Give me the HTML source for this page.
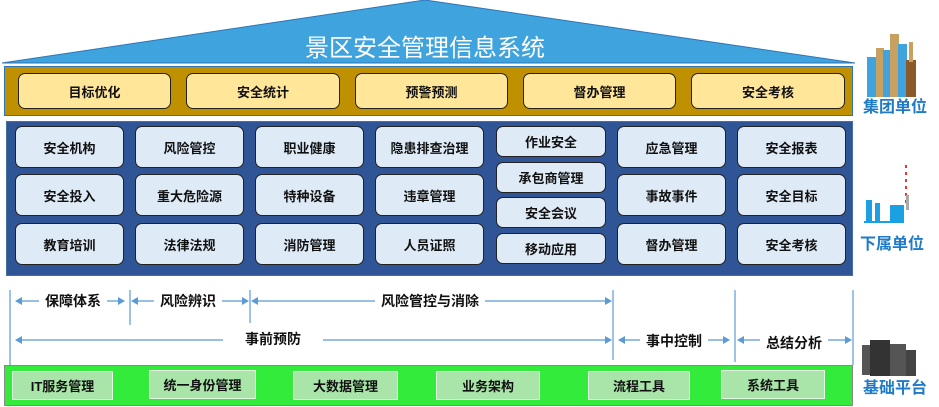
<!DOCTYPE html>
<html><head><meta charset="utf-8"><style>
body{margin:0;width:939px;height:407px;background:#fff;position:relative;overflow:hidden;font-family:"Liberation Sans","Noto Sans CJK SC",sans-serif;}
.a{position:absolute;box-sizing:border-box;display:flex;align-items:center;justify-content:center;}
.g{background:#FFE699;border:1.5px solid #222;border-radius:7px;font-size:13px;font-weight:bold;color:#111;}
.b{background:#DEEBF7;border:1.5px solid #222;border-radius:7px;font-size:13px;font-weight:bold;color:#111;}
.gr{background:#A9E5A9;border:1.5px solid #E6F7E6;font-size:13px;font-weight:bold;color:#111;}
.lab{font-size:14px;font-weight:bold;color:#111;background:#fff;padding:0 6px;}
.side{font-size:16px;font-weight:bold;color:#1F7BC8;}
</style></head><body>
<svg width="939" height="407" style="position:absolute;left:0;top:0">
<polygon points="2,63 425,0 855,63" fill="#3FA3DE" stroke="#2E75B6" stroke-width="1"/>
<rect x="4.5" y="66.5" width="848" height="49" fill="#BF9000" stroke="#2E75B6"/>
<rect x="6.5" y="121.5" width="846" height="154" fill="#2F5597" stroke="#41719C"/>
<rect x="4.5" y="365.5" width="848" height="40" fill="#33EB3A" stroke="#888"/>
<g stroke="#5B9BD5" stroke-width="1.2">
<line x1="10" y1="290" x2="10" y2="365"/><line x1="130" y1="290" x2="130" y2="325"/>
<line x1="250" y1="290" x2="250" y2="323"/><line x1="613" y1="290" x2="613" y2="360"/>
<line x1="735" y1="290" x2="735" y2="362"/><line x1="853" y1="290" x2="853" y2="365"/>
<line x1="16" y1="301" x2="124" y2="301"/><line x1="136" y1="301" x2="244" y2="301"/>
<line x1="256" y1="301" x2="607" y2="301"/>
<line x1="16" y1="340" x2="607" y2="340"/><line x1="619" y1="340" x2="729" y2="340"/>
<line x1="741" y1="340" x2="847" y2="340"/>
</g>
<g fill="#5B9BD5">
<polygon points="15,301 22,297 22,305"/><polygon points="125,301 118,297 118,305"/>
<polygon points="131,301 138,297 138,305"/><polygon points="249,301 242,297 242,305"/>
<polygon points="251,301 258,297 258,305"/><polygon points="612,301 605,297 605,305"/>
<polygon points="15,340 22,336 22,344"/><polygon points="612,340 605,336 605,344"/>
<polygon points="618,340 625,336 625,344"/><polygon points="730,340 723,336 723,344"/>
<polygon points="737,340 744,336 744,344"/><polygon points="852,340 845,336 845,344"/>
</g>
<!-- icons -->
<g>
<rect x="867" y="57" width="10" height="40" fill="#3FA3DE"/><rect x="876" y="48" width="8" height="49" fill="#C8A060"/>
<rect x="883" y="50" width="8" height="47" fill="#3FA3DE"/><rect x="890" y="34" width="9" height="63" fill="#C8A060"/>
<rect x="898" y="44" width="9" height="53" fill="#3FA3DE"/><rect x="906" y="60" width="10" height="37" fill="#8B5A2B"/>
<rect x="909" y="42" width="4" height="20" fill="#C8A060"/>
<rect x="866" y="200" width="6" height="22" fill="#1BA1E2"/><rect x="875" y="203" width="5" height="19" fill="#1BA1E2"/>
<rect x="864" y="221" width="40" height="2" fill="#1BA1E2"/><rect x="890" y="205" width="14" height="18" fill="#1BA1E2"/>
<line x1="906" y1="165" x2="906" y2="205" stroke="#E33" stroke-width="2" stroke-dasharray="3,4"/>
<rect x="906" y="195" width="3" height="15" fill="#aaa"/>
<rect x="862" y="345" width="8" height="30" fill="#555"/><rect x="870" y="340" width="20" height="36" fill="#333"/>
<rect x="890" y="344" width="16" height="32" fill="#555"/><rect x="906" y="350" width="10" height="26" fill="#444"/>
</g>
</svg>
<div class="a" style="left:200px;top:28px;width:450px;height:34px;color:#fff;font-size:24px;">景区安全管理信息系统</div>
<div class="a g" style="left:18px;top:73px;width:153px;height:36px">目标优化</div>
<div class="a g" style="left:186px;top:73px;width:154px;height:36px">安全统计</div>
<div class="a g" style="left:355px;top:73px;width:153px;height:36px">预警预测</div>
<div class="a g" style="left:523px;top:73px;width:153px;height:36px">督办管理</div>
<div class="a g" style="left:691px;top:73px;width:154px;height:36px">安全考核</div>

<div class="a b" style="left:15px;top:126px;width:109px;height:42px">安全机构</div>
<div class="a b" style="left:15px;top:174px;width:109px;height:42px">安全投入</div>
<div class="a b" style="left:15px;top:223px;width:109px;height:42px">教育培训</div>
<div class="a b" style="left:135px;top:126px;width:109px;height:42px">风险管控</div>
<div class="a b" style="left:135px;top:174px;width:109px;height:42px">重大危险源</div>
<div class="a b" style="left:135px;top:223px;width:109px;height:42px">法律法规</div>
<div class="a b" style="left:255px;top:126px;width:109px;height:42px">职业健康</div>
<div class="a b" style="left:255px;top:174px;width:109px;height:42px">特种设备</div>
<div class="a b" style="left:255px;top:223px;width:109px;height:42px">消防管理</div>
<div class="a b" style="left:375px;top:126px;width:109px;height:42px">隐患排查治理</div>
<div class="a b" style="left:375px;top:174px;width:109px;height:42px">违章管理</div>
<div class="a b" style="left:375px;top:223px;width:109px;height:42px">人员证照</div>
<div class="a b" style="left:496px;top:126px;width:110px;height:31px">作业安全</div>
<div class="a b" style="left:496px;top:162px;width:110px;height:31px">承包商管理</div>
<div class="a b" style="left:496px;top:197px;width:110px;height:31px">安全会议</div>
<div class="a b" style="left:496px;top:233px;width:110px;height:31px">移动应用</div>
<div class="a b" style="left:617px;top:126px;width:109px;height:42px">应急管理</div>
<div class="a b" style="left:617px;top:174px;width:109px;height:42px">事故事件</div>
<div class="a b" style="left:617px;top:223px;width:109px;height:42px">督办管理</div>
<div class="a b" style="left:737px;top:126px;width:109px;height:42px">安全报表</div>
<div class="a b" style="left:737px;top:174px;width:109px;height:42px">安全目标</div>
<div class="a b" style="left:737px;top:223px;width:109px;height:42px">安全考核</div>

<div class="a" style="left:23px;top:290px;width:100px;height:22px"><span class="lab">保障体系</span></div>
<div class="a" style="left:138px;top:290px;width:100px;height:22px"><span class="lab">风险辨识</span></div>
<div class="a" style="left:370px;top:290px;width:120px;height:22px"><span class="lab">风险管控与消除</span></div>
<div class="a" style="left:213px;top:327px;width:120px;height:24px"><span class="lab" style="padding:0 22px">事前预防</span></div>
<div class="a" style="left:625px;top:329px;width:98px;height:24px"><span class="lab">事中控制</span></div>
<div class="a" style="left:745px;top:331px;width:98px;height:24px"><span class="lab">总结分析</span></div>

<div class="a gr" style="left:12px;top:371px;width:101px;height:29px">IT服务管理</div>
<div class="a gr" style="left:149px;top:370px;width:107px;height:29px">统一身份管理</div>
<div class="a gr" style="left:293px;top:371px;width:105px;height:29px">大数据管理</div>
<div class="a gr" style="left:436px;top:371px;width:104px;height:29px">业务架构</div>
<div class="a gr" style="left:588px;top:371px;width:102px;height:29px">流程工具</div>
<div class="a gr" style="left:721px;top:370px;width:104px;height:29px">系统工具</div>

<div class="a side" style="left:855px;top:94px;width:80px;height:22px">集团单位</div>
<div class="a side" style="left:852px;top:231px;width:80px;height:22px">下属单位</div>
<div class="a side" style="left:855px;top:375px;width:80px;height:22px">基础平台</div>
</body></html>
